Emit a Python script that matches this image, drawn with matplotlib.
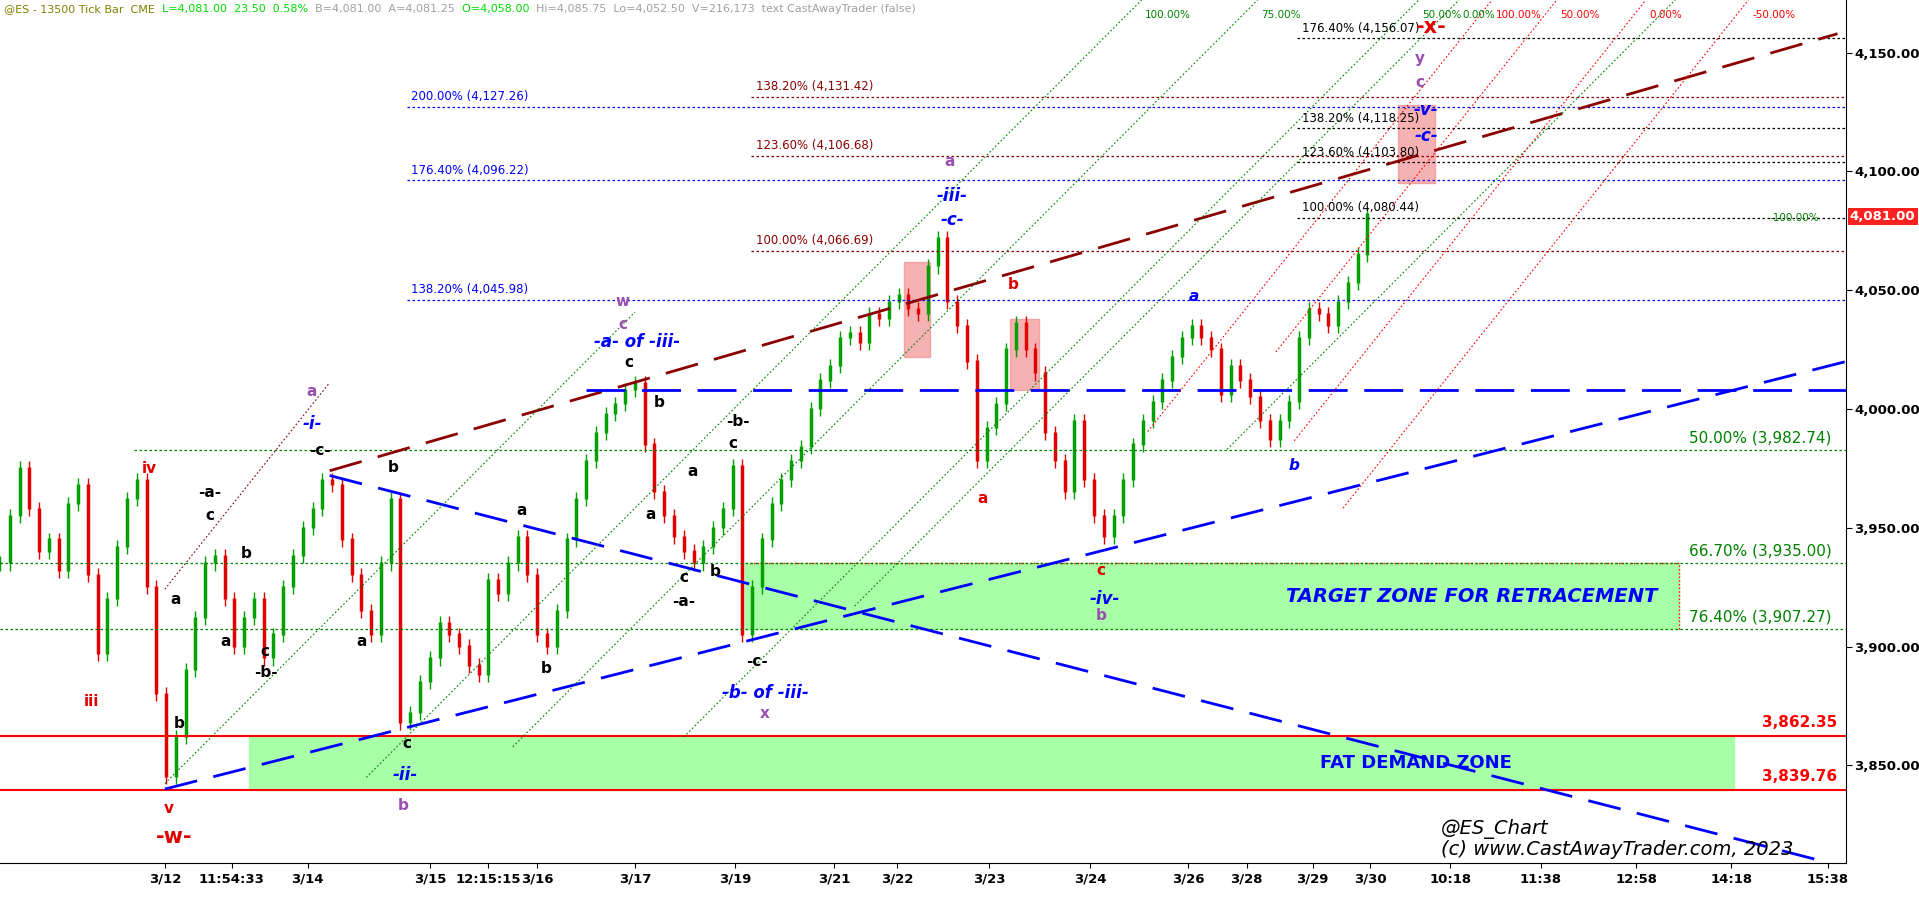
import numpy as np
import matplotlib.pyplot as plt

# bar closes (one bar per slot)
closes = [3935, 3955, 3975, 3958, 3940, 3945, 3932, 3960, 3968, 3930, 3897, 3920, 3942, 3962, 3970, 3925,
          3880, 3845, 3862, 3890, 3912, 3935, 3938, 3920, 3900, 3912, 3920, 3895, 3905, 3925, 3938, 3950,
          3958, 3970, 3968, 3945, 3930, 3915, 3905, 3935, 3962, 3868, 3872, 3885, 3895, 3910, 3905, 3900,
          3892, 3888, 3928, 3922, 3935, 3946, 3930, 3905, 3900, 3915, 3945, 3962, 3978, 3990, 3998, 4002,
          4008, 4011, 3985, 3965, 3955, 3946, 3940, 3935, 3942, 3950, 3958, 3976, 3905, 3925, 3945, 3960,
          3970, 3978, 3984, 4000, 4012, 4018, 4030, 4032, 4028, 4040, 4038, 4045, 4048, 4042, 4040, 4060,
          4072, 4045, 4035, 4020, 3978, 3992, 4002, 4025, 4036, 4025, 4015, 3990, 3978, 3965, 3995, 3970,
          3955, 3946, 3955, 3970, 3985, 3995, 4003, 4012, 4022, 4030, 4035, 4030, 4025, 4006, 4018, 4012,
          4005, 3995, 3987, 3995, 4003, 4030, 4042, 4040, 4035, 4045, 4053, 4065, 4082]
bar_step = 8

tick_pos = [135, 190, 252, 352, 400, 440, 520, 602, 683, 735, 810, 893, 973, 1021, 1075, 1122, 1188, 1262, 1340, 1418, 1497]
tick_lab = ["3/12", "11:54:33", "3/14", "3/15", "12:15:15", "3/16", "3/17", "3/19", "3/21", "3/22", "3/23",
            "3/24", "3/26", "3/28", "3/29", "3/30", "10:18", "11:38", "12:58", "14:18", "15:38"]

# fib levels: (label, value, colour, start x)
fibs = [("176.40%", 4156.07, "black", 1062), ("138.20%", 4131.42, "#8b0000", 615),
        ("200.00%", 4127.26, "blue", 333), ("138.20%", 4118.25, "black", 1062),
        ("123.60%", 4106.68, "#8b0000", 615), ("123.60%", 4103.80, "black", 1062),
        ("176.40%", 4096.22, "blue", 333), ("100.00%", 4080.44, "black", 1062),
        ("100.00%", 4066.69, "#8b0000", 615), ("138.20%", 4045.98, "blue", 333)]
retr = [("50.00%", 3982.74, 110), ("66.70%", 3935.00, 0), ("76.40%", 3907.27, 0)]
demand = [3839.76, 3862.35]

def py(y):
    return 4172.2 - y / 1.94

fig = plt.figure(figsize=(19.19, 9.01), dpi=100)
ax = fig.add_axes([0.0, 0.042, 0.962, 0.958])
ax.set_xlim(0, 1512)
ax.set_ylim(py(705), py(0))

# bars
prev = closes[0]
for i, c in enumerate(closes):
    x = i * bar_step
    col = "#00a000" if c >= prev else "#e00000"
    ax.vlines(x, min(prev, c) - 3, max(prev, c) + 3, color=col, lw=1.0)
    ax.vlines(x, min(prev, c), max(prev, c) + 0.5, color=col, lw=2.5)
    prev = c

# zones
ax.fill_between([204, 1420], demand[0], demand[1], color="#a8ffa8", zorder=0)
ax.text(1160, (demand[0] + demand[1]) / 2, "FAT DEMAND ZONE", color="blue", fontsize=13,
        fontweight="bold", ha="center", va="center")
ax.fill_between([610, 1375], 3907.27, 3935.0, color="#a8ffa8", zorder=0)
ax.plot([1375, 1375, 610], [3907.27, 3935, 3935], color="red", ls=":", lw=1)
ax.text(1205, 3921, "TARGET ZONE FOR RETRACEMENT", color="blue", fontsize=14, fontweight="bold",
        style="italic", ha="center", va="center")
for d in demand:
    ax.axhline(d, color="red", lw=1.5)
    ax.text(1505, d + 2.5, f"{d:,.2f}", color="red", fontsize=11, fontweight="bold", ha="right", va="bottom")

for x0, x1, y0, y1 in [(740, 762, 4022, 4062), (827, 851, 4008, 4038), (1145, 1175, 4095, 4128)]:
    ax.fill_between([x0, x1], y0, y1, color="#f08080", alpha=0.6, zorder=1)

for lab, v, col, x0 in fibs:
    ax.plot([x0, 1512], [v, v], color=col, ls=(0, (2, 2)), lw=0.9)
    ax.text(x0 + 4, v + 1.5, f"{lab} ({v:,.2f})", color=col, fontsize=8.5, va="bottom")
for lab, v, x0 in retr:
    ax.plot([x0, 1512], [v, v], color="green", ls=(0, (2, 2)), lw=0.9)
    ax.text(1500, v + 2, f"{lab} ({v:,.2f})", color="green", fontsize=11, ha="right", va="bottom")

# trend lines
ax.plot([270, 1505], [3974, 4158], color="#8b0000", lw=2, dashes=(12, 6))
ax.plot([135, 1512], [3840, 4020], color="blue", lw=2, dashes=(12, 6))
ax.plot([270, 1490], [3972, 3810], color="blue", lw=2, dashes=(12, 6))
ax.plot([480, 1512], [4008, 4008], color="blue", lw=2, dashes=(14, 6))

# channel lines: (x at top edge, start x, end x, slope px/px, colour, label)
chan = [(935, 300, 935, 1.0, "green", "100.00%"), (1030, 420, 1030, 1.0, "green", "75.00%"),
        (1162, 560, 1162, 1.0, "green", "50.00%"), (1195, 700, 1195, 1.0, "green", "0.00%"),
        (1372, 1005, 1512, 1.0, "green", ""), (775, 135, 520, 1.0, "green", ""),
        (1222, 940, 1222, 1.25, "red", "100.00%"), (1275, 1045, 1275, 1.25, "red", "50.00%"),
        (1348, 1060, 1348, 1.25, "red", "0.00%"), (1432, 1100, 1432, 1.25, "red", "-50.00%"),
        (520, 135, 270, 1.25, "#8b0000", "")]
for xt, xs, xe, s, col, lab in chan:
    ax.plot([xs, xe], [py((xt - xs) * s), py((xt - xe) * s)], color=col, ls=(0, (1.5, 2)), lw=0.8)
    if lab:
        ax.text(xt + 3, py(12), lab, color=col, fontsize=7.5, va="center")
ax.text(1490, py(178), "-100.00%", color="green", fontsize=7.5, ha="right", va="center")

# wave labels: (x, y px, text, colour, size)
red, blue, pur = "#e00000", "#0000ff", "#9b4fb0"
waves = [(122, 383, "iv", red, 11), (75, 573, "iii", red, 11), (138, 660, "v", red, 11),
         (143, 684, "-w-", red, 15), (147, 591, "b", "k", 11), (144, 490, "a", "k", 11),
         (172, 402, "-a-", "k", 11), (172, 421, "c", "k", 11), (202, 452, "b", "k", 11),
         (185, 524, "a", "k", 11), (217, 532, "c", "k", 11), (218, 549, "-b-", "k", 11),
         (255, 320, "a", pur, 11), (256, 346, "-i-", blue, 12), (262, 368, "-c-", "k", 11),
         (322, 382, "b", "k", 11), (296, 524, "a", "k", 11), (333, 607, "c", "k", 11),
         (332, 633, "-ii-", blue, 12), (330, 658, "b", pur, 11), (427, 417, "a", "k", 11),
         (447, 546, "b", "k", 11), (510, 246, "w", pur, 11), (510, 265, "c", pur, 11),
         (522, 279, "-a- of -iii-", blue, 12), (515, 296, "c", "k", 11), (540, 329, "b", "k", 11),
         (567, 385, "a", "k", 11), (533, 420, "a", "k", 11), (560, 472, "c", "k", 11),
         (586, 467, "b", "k", 11), (560, 491, "-a-", "k", 11), (604, 344, "-b-", "k", 11),
         (600, 362, "c", "k", 11), (620, 540, "-c-", "k", 11), (627, 566, "-b- of -iii-", blue, 12),
         (626, 583, "x", pur, 11), (778, 132, "a", pur, 11), (780, 160, "-iii-", blue, 12),
         (780, 180, "-c-", blue, 12), (830, 232, "b", red, 11), (805, 407, "a", red, 11),
         (978, 242, "a", blue, 11), (1060, 380, "b", blue, 11), (902, 466, "c", red, 11),
         (905, 489, "-iv-", blue, 12), (902, 503, "b", pur, 11), (1172, 22, "-x-", red, 15),
         (1163, 48, "y", pur, 11), (1163, 67, "c", pur, 11), (1168, 90, "-v-", blue, 12),
         (1168, 111, "-c-", blue, 12)]
for x, y, t, col, fs in waves:
    ax.text(x, py(y), t, color=col, fontsize=fs, fontweight="bold", style="italic" if col == blue else "normal",
            ha="center", va="center")

ax.text(1180, py(677), "@ES_Chart", fontsize=14, style="italic", va="center")
ax.text(1180, py(694), "(c) www.CastAwayTrader.com, 2023", fontsize=14, style="italic", va="center")

# header
hdr = [("@ES - 13500 Tick Bar  CME  ", "#808000"), ("L=4,081.00  23.50  0.58%  ", "#00dd00"),
       ("B=4,081.00  A=4,081.25  ", "#a0a0a0"), ("O=4,058.00  ", "#00dd00"),
       ("Hi=4,085.75  Lo=4,052.50  V=216,173  text CastAwayTrader (false)", "#a0a0a0")]
t = None
for s, col in hdr:
    if t is None:
        t = ax.text(0.002, 0.995, s, transform=ax.transAxes, color=col, fontsize=8, va="top")
    else:
        t = ax.annotate(s, xycoords=t, xy=(1, 0), va="bottom", color=col, fontsize=8)

ax.yaxis.tick_right()
ax.tick_params(axis="y", length=4, pad=2)
ax.set_yticks([3850, 3900, 3950, 4000, 4050, 4100, 4150])
ax.set_yticklabels([f"{v:,.2f}" for v in ax.get_yticks()], fontweight="bold", fontsize=9.5)
ax.set_xticks(tick_pos)
ax.set_xticklabels(tick_lab, fontweight="bold", fontsize=9.5)
ax.text(1.002, 4081, "4,081.00", transform=ax.get_yaxis_transform(), color="white", fontsize=9.5,
        fontweight="bold", va="center", bbox=dict(facecolor="#ff2020", edgecolor="none", pad=1.5))
for sp in ["top", "left"]:
    ax.spines[sp].set_visible(False)

fig.savefig("out.png", dpi=100)
